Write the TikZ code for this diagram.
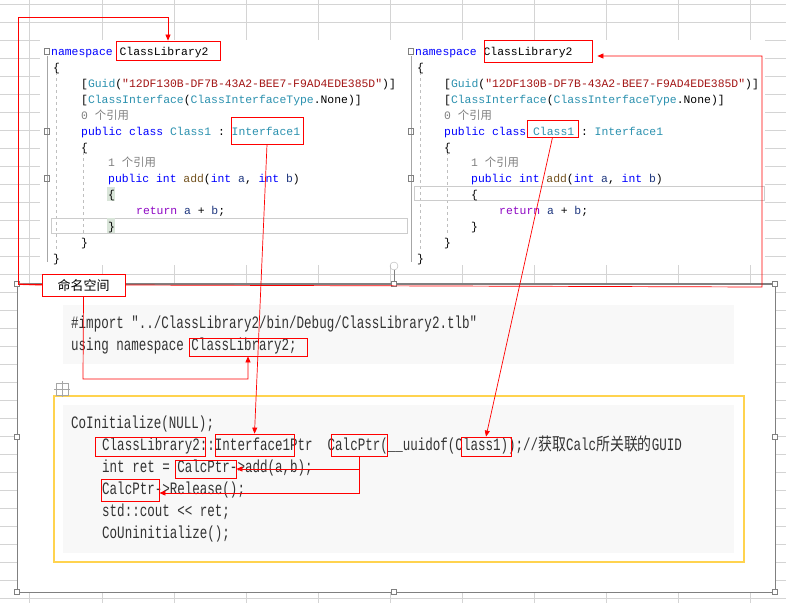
\documentclass[tikz,border=0pt]{standalone}
\usepackage{fontspec}
\setmonofont{Liberation Mono}
\newfontfamily\cjk{Noto Sans CJK SC}
\newfontfamily\narrow[FakeStretch=0.72]{Liberation Mono}
\newfontfamily\narrowcjk[FakeStretch=0.8]{Noto Sans CJK SC}
\usetikzlibrary{arrows.meta,calc}
\definecolor{kw}{HTML}{0000FF}
\definecolor{ty}{HTML}{2B91AF}
\definecolor{st}{HTML}{A31515}
\definecolor{gr}{HTML}{808080}
\definecolor{fn}{HTML}{74531F}
\definecolor{pu}{HTML}{8F08C4}
\definecolor{vb}{HTML}{1F377F}
\definecolor{grid}{HTML}{D4D4D4}
\definecolor{blk}{HTML}{F8F8F8}
\definecolor{yel}{HTML}{FFD34F}
\begin{document}
\begin{tikzpicture}[x=1pt,y=-1pt,
 code/.style={anchor=base west,inner sep=0,font=\ttfamily\fontsize{11.4}{11}\selectfont},
 bcode/.style={anchor=base west,inner sep=0,font=\narrow\fontsize{17.4}{12}\selectfont,text=black!80},
 rbox/.style={draw=red,line width=0.8pt,inner sep=0},
 rline/.style={draw=red,line width=0.7pt},
 rarr/.style={rline,-{Triangle[length=6pt,width=5pt]}},
 handle/.style={draw=gray,fill=white,minimum size=5,inner sep=0}]
\useasboundingbox (0,0) rectangle (786,603);
\fill[white] (0,0) rectangle (786,603);
% grid
\foreach \x in {29,102,174,246,318,390,462,534,606,678,750} \draw[grid] (\x,0) -- (\x,603);
\foreach \y in {4,22,40,58,76,94,112,130,148,166,184,202,220,238,256,274,292,310,328,346,364,382,400,418,436,454,472,490,508,526,544,562,580,598} \draw[grid] (0,\y) -- (786,\y);
% upper panels
\fill[white] (40,40) rectangle (765,265);
\fill[white] (17,284) rectangle (775,592);
\draw[gray] (17,284) rectangle (775,592);
\draw[gray] (17,283) -- (775,283);
\draw[gray] (394,283) -- (394,270);
\node[draw=gray!60,circle,minimum size=8,inner sep=0] (rot) at (394,266) {};
\foreach \p/\n in {{17,284}/h1,{394,284}/h2,{775,284}/h3,{17,437}/h4,{775,437}/h5,{17,592}/h6,{394,592}/h7,{775,592}/h8} \node[handle] (\n) at (\p) {};
% gutters
\foreach \xo in {0,364}{
 \begin{scope}[xshift=\xo]
 \draw[gray!70] (47,56) -- (47,262);
 \foreach \yy in {51,131,178} \draw[gray] (44,\yy-3) rectangle (49,\yy+3);
 \draw[gray!50,dashed] (56,72) -- (56,250);
 \draw[gray!50,dashed] (83,152) -- (83,234);
 \end{scope}}
\draw[gray!40,line width=0.8] (51,218) rectangle (407,233);
\draw[gray!40,line width=0.8] (414,186) rectangle (764,200);
\fill[green!20!gray!25] (107,187) rectangle (115,201);
\fill[green!20!gray!25] (107,218) rectangle (115,233);
% left code
\node[code] (l1) at (51,55) {\color{kw}namespace \color{black}ClassLibrary2};
\node[code] (l2) at (53,71) {\{};
\node[code] (l3) at (81,87) {[\color{ty}Guid\color{black}(\color{st}"12DF130B-DF7B-43A2-BEE7-F9AD4EDE385D"\color{black})]};
\node[code] (l4) at (81,103) {[\color{ty}ClassInterface\color{black}(\color{ty}ClassInterfaceType\color{black}.None)]};
\node[code,text=gr] (l5) at (81,119) {0 {\cjk 个引用}};
\node[code] (l6) at (81,135) {\color{kw}public class \color{ty}Class1 \color{black}: \color{ty}Interface1};
\node[code] (l7) at (81,151) {\{};
\node[code,text=gr] (l8) at (108,166) {1 {\cjk 个引用}};
\node[code] (l9) at (108,182) {\color{kw}public int \color{fn}add\color{black}(\color{kw}int \color{vb}a\color{black}, \color{kw}int \color{vb}b\color{black})};
\node[code] (l10) at (108,198) {\{};
\node[code] (l11) at (136,214) {\color{pu}return \color{vb}a \color{black}+ \color{vb}b\color{black};};
\node[code] (l12) at (108,230) {\}};
\node[code] (l13) at (81,246) {\}};
\node[code] (l14) at (53,262) {\}};
% right code
\node[code] (r1) at (415,55) {\color{kw}namespace \color{black}ClassLibrary2};
\node[code] (r2) at (417,71) {\{};
\node[code] (r3) at (444,87) {[\color{ty}Guid\color{black}(\color{st}"12DF130B-DF7B-43A2-BEE7-F9AD4EDE385D"\color{black})]};
\node[code] (r4) at (444,103) {[\color{ty}ClassInterface\color{black}(\color{ty}ClassInterfaceType\color{black}.None)]};
\node[code,text=gr] (r5) at (444,119) {0 {\cjk 个引用}};
\node[code] (r6) at (444,135) {\color{kw}public class \color{ty}Class1 \color{black}: \color{ty}Interface1};
\node[code] (r7) at (444,151) {\{};
\node[code,text=gr] (r8) at (471,166) {1 {\cjk 个引用}};
\node[code] (r9) at (471,182) {\color{kw}public int \color{fn}add\color{black}(\color{kw}int \color{vb}a\color{black}, \color{kw}int \color{vb}b\color{black})};
\node[code] (r10) at (471,198) {\{};
\node[code] (r11) at (499,214) {\color{pu}return \color{vb}a \color{black}+ \color{vb}b\color{black};};
\node[code] (r12) at (471,230) {\}};
\node[code] (r13) at (444,246) {\}};
\node[code] (r14) at (417,262) {\}};
% lower blocks
\fill[blk] (63,305) rectangle (734,364);
\draw[yel,line width=1.5pt] (54,396) rectangle (744,562);
\fill[blk] (63,405) rectangle (734,553);
\draw[gray!70] (56,383) rectangle (68,395);
\draw[gray!70] (62,381) -- (62,397) (54,389) -- (70,389);
\node[bcode] (c1) at (71,328) {\#import "../ClassLibrary2/bin/Debug/ClassLibrary2.tlb"};
\node[bcode] (c2) at (71,350) {using namespace ClassLibrary2;};
\node[bcode] (d1) at (71,428) {CoInitialize(NULL);};
\node[bcode] (d2) at (102,450) {ClassLibrary2::Interface1Ptr \ CalcPtr(\_\_uuidof(Class1));//{\narrowcjk 获取}Calc{\narrowcjk 所关联的}GUID};
\node[bcode] (d3) at (102,472) {int ret = CalcPtr->add(a,b);};
\node[bcode] (d4) at (102,494) {CalcPtr->Release();};
\node[bcode] (d5) at (102,516) {std::cout << ret;};
\node[bcode] (d6) at (102,538) {CoUninitialize();};
% red boxes
\node[rbox,minimum width=104,minimum height=19] (bL) at (168,50.5) {};
\node[rbox,minimum width=72,minimum height=27] (bI) at (267,130.5) {};
\node[rbox,minimum width=108,minimum height=22] (bR) at (538,51) {};
\node[rbox,minimum width=51,minimum height=17] (bC) at (552.5,128.5) {};
\node[rbox,minimum width=83,minimum height=22,fill=white,font=\cjk\fontsize{13}{13}\selectfont,text=black] (ns) at (83.5,285) {命名空间};
\node[rbox,minimum width=118,minimum height=18] (bU) at (248,347) {};
\node[rbox,minimum width=110,minimum height=19] (bCL) at (150,446.5) {};
\node[rbox,minimum width=79,minimum height=22] (bIP) at (254.5,445) {};
\node[rbox,minimum width=56,minimum height=22] (bCP) at (359,445) {};
\node[rbox,minimum width=50,minimum height=19] (bC1) at (486,446.5) {};
\node[rbox,minimum width=61,minimum height=18] (bP3) at (205.5,469) {};
\node[rbox,minimum width=58,minimum height=22] (bP4) at (130,490) {};
% connectors
\draw[rline,red!60,line width=1.5pt] (ns.west) -- (h1);
\draw[rarr] (ns.west |- 0,284) -- (18,284) -- (18,17) -- (168,17) -- (bL.north);
\draw[rarr] (ns.east) -- (762,287) -- (762,56) -- ($(bR.east)+(5,5)$);
\draw[rarr] (ns.south) -- (83,379) -- (248,379) -- (bU.south);
\draw[rarr] (bI.south) -- (bIP.north);
\draw[rarr] (bC.south) -- (bC1.north);
\draw[rarr] (bCP.south) -- (359,469) -- (bP3.east);
\draw[rarr] (bCP.south) -- (359,493) -- (bP4.east |- 0,493);
\end{tikzpicture}
\end{document}
